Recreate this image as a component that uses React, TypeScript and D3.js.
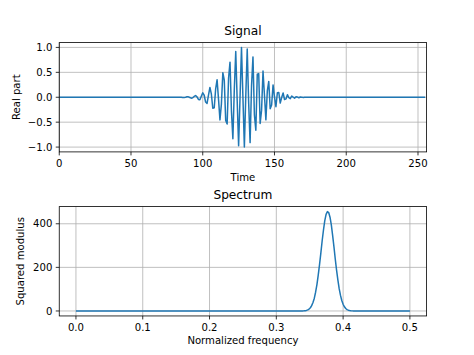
import React from 'react';
import * as d3 from 'd3';

// ---- data ----
const signalTime = [
  0, 84, 85, 86, 87, 88, 89, 90, 91, 92, 93, 94, 95, 96, 97, 98, 99,
  100, 101, 102, 103, 104, 105, 106, 107, 108, 109, 110, 111, 112, 113, 114, 115, 116, 117, 118, 119,
  120, 121, 122, 123, 124, 125, 126, 127, 128, 129, 130, 131, 132, 133, 134, 135, 136, 137, 138, 139,
  140, 141, 142, 143, 144, 145, 146, 147, 148, 149, 150, 151, 152, 153, 154, 155, 156, 157, 158, 159,
  160, 161, 162, 163, 164, 165, 166, 167, 168, 169, 170, 171, 172, 255,
];
const signalReal = [
  0, 0.0021, -0.0004, -0.0041, -0.0045, 0.0014, 0.009, 0.0082, -0.0052, -0.0187, -0.0117, 0.0169, 0.0345, 0.0074, -0.0446, -0.0505, 0.0216,
  0.0901, 0.0404, -0.0955, -0.125, 0.0437, 0.1972, 0.066, -0.2198, -0.2104, 0.1687, 0.352, -0.0431, -0.454, -0.1372, 0.4936, 0.341, -0.4669, -0.5375, 0.3873, 0.7045,
  -0.2779, -0.8318, 0.1646, 0.9192, -0.0703, -0.9721, 0.0122, 0.9969, 0.0, -0.9969, 0.0365, 0.9701, -0.117, -0.9104, 0.2291, 0.8098, -0.3526, -0.6632, 0.4613, 0.4741,
  -0.527, -0.2588, 0.5272, 0.0463, -0.4535, 0.1273, 0.3182, -0.2301, -0.1543, 0.2473, 0.0056, -0.1907, 0.0899, 0.0956, -0.1163, -0.0059, 0.0865, -0.0457, -0.0333, 0.0517,
  -0.0095, -0.0286, 0.025, 0.0022, -0.0176, 0.0108, 0.0035, -0.0092, 0.0046, 0.0022, -0.0044, 0.0021, 0.001, 0,
];
const timeTicks = [0, 50, 100, 150, 200, 250];
const realTicks = [-1.0, -0.5, 0.0, 0.5, 1.0];

const spectrumFreq = [
  0, 0.3333, 0.3353, 0.3373, 0.3392, 0.3412, 0.3431, 0.3451, 0.3471, 0.349, 0.351,
  0.3529, 0.3549, 0.3569, 0.3588, 0.3608, 0.3627, 0.3647, 0.3667, 0.3686, 0.3706,
  0.3725, 0.3745, 0.3765, 0.3784, 0.3804, 0.3824, 0.3843, 0.3863, 0.3882, 0.3902,
  0.3922, 0.3941, 0.3961, 0.398, 0.4, 0.402, 0.4039, 0.4059, 0.4078, 0.4098,
  0.4118, 0.4137, 0.4157, 0.4176, 0.4196, 0.5,
];
const spectrumPower = [
  0, 0.03, 0.07, 0.15, 0.33, 0.69, 1.37, 2.64, 4.88, 8.68, 14.85,
  24.42, 38.63, 58.79, 85.98, 120.98, 163.7, 213.03, 266.62, 320.9, 371.5,
  413.57, 442.8, 455.95, 451.52, 430.03, 393.88, 346.96, 293.92, 239.48, 187.65,
  141.41, 102.49, 71.44, 47.88, 30.87, 19.14, 11.41, 6.54, 3.61, 1.91,
  0.98, 0.48, 0.23, 0.1, 0.05, 0,
];
const freqTicks = [0.0, 0.1, 0.2, 0.3, 0.4, 0.5];
const powerTicks = [0, 200, 400];

const W = 474;
const H = 355;
const LEFT = 59.25;
const RIGHT = 426.6;
const FONT = 'DejaVu Sans, sans-serif';
const BLUE = '#1f77b4';
const FS = 10.1;
const TFS = 12.2;

const fmtSigned = (d: number, digits: number) => {
  const s = Math.abs(d).toFixed(digits);
  return d < 0 ? '\u2212' + s : s;
};

function padded(vals: number[]): [number, number] {
  const [lo, hi] = d3.extent(vals) as [number, number];
  const m = (hi - lo) * 0.05;
  return [lo - m, hi + m];
}

type PanelProps = {
  top: number;
  bottom: number;
  xDomain: [number, number];
  yDomain: [number, number];
  xs: number[];
  ys: number[];
  xTicks: number[];
  yTicks: number[];
  xFmt: (d: number) => string;
  yFmt: (d: number) => string;
  title: string;
  xLabel: string;
  yLabel: string;
  yLabelX: number;
  titleY: number;
  xLabelDy: number;
};

function Panel(p: PanelProps) {
  const x = d3.scaleLinear().domain(p.xDomain).range([LEFT, RIGHT]);
  const y = d3.scaleLinear().domain(p.yDomain).range([p.bottom, p.top]);
  const pts = p.xs.map((v, i) => [v, p.ys[i]] as [number, number]);
  const path = d3
    .line<[number, number]>()
    .x((d) => x(d[0]))
    .y((d) => y(d[1]))(pts) as string;
  const clipId = 'clip' + Math.round(p.top);
  return (
    <g>
      <defs>
        <clipPath id={clipId}>
          <rect x={LEFT} y={p.top} width={RIGHT - LEFT} height={p.bottom - p.top} />
        </clipPath>
      </defs>
      <rect x={LEFT} y={p.top} width={RIGHT - LEFT} height={p.bottom - p.top} fill="#fff" />
      {p.xTicks.map((t) => (
        <line key={'gx' + t} x1={x(t)} x2={x(t)} y1={p.top} y2={p.bottom} stroke="#b0b0b0" strokeWidth={0.8} />
      ))}
      {p.yTicks.map((t) => (
        <line key={'gy' + t} x1={LEFT} x2={RIGHT} y1={y(t)} y2={y(t)} stroke="#b0b0b0" strokeWidth={0.8} />
      ))}
      <path d={path} fill="none" stroke={BLUE} strokeWidth={1.5} strokeLinejoin="round" clipPath={`url(#${clipId})`} />
      <rect x={LEFT} y={p.top} width={RIGHT - LEFT} height={p.bottom - p.top} fill="none" stroke="#000" strokeWidth={0.8} />
      {p.xTicks.map((t) => (
        <g key={'tx' + t}>
          <line x1={x(t)} x2={x(t)} y1={p.bottom} y2={p.bottom + 3.5} stroke="#000" strokeWidth={0.8} />
          <text x={x(t)} y={p.bottom + 15} textAnchor="middle" fontSize={FS} fontFamily={FONT} fill="#000">
            {p.xFmt(t)}
          </text>
        </g>
      ))}
      {p.yTicks.map((t) => (
        <g key={'ty' + t}>
          <line x1={LEFT - 3.5} x2={LEFT} y1={y(t)} y2={y(t)} stroke="#000" strokeWidth={0.8} />
          <text x={LEFT - 6.9} y={y(t) + 3.6} textAnchor="end" fontSize={FS} fontFamily={FONT} fill="#000">
            {p.yFmt(t)}
          </text>
        </g>
      ))}
      <text x={(LEFT + RIGHT) / 2} y={p.titleY} textAnchor="middle" fontSize={TFS} fontFamily={FONT} fill="#000">
        {p.title}
      </text>
      <text x={(LEFT + RIGHT) / 2} y={p.bottom + p.xLabelDy} textAnchor="middle" fontSize={FS} fontFamily={FONT} fill="#000">
        {p.xLabel}
      </text>
      <text
        transform={`translate(${p.yLabelX},${(p.top + p.bottom) / 2}) rotate(-90)`}
        textAnchor="middle"
        fontSize={FS}
        fontFamily={FONT}
        fill="#000"
      >
        {p.yLabel}
      </text>
    </g>
  );
}

export default function App() {
  return (
    <svg width={W} height={H} style={{ position: 'absolute', left: 0, top: 0, background: '#fff' }}>
      <rect x={0} y={0} width={W} height={H} fill="#fff" />
      <Panel
        top={42.6}
        bottom={151.9}
        xDomain={[0, 256]}
        yDomain={padded(signalReal)}
        xs={signalTime}
        ys={signalReal}
        xTicks={timeTicks}
        yTicks={realTicks}
        xFmt={(d) => String(d)}
        yFmt={(d) => fmtSigned(d, 1)}
        title="Signal"
        xLabel="Time"
        yLabel="Real part"
        yLabelX={19.5}
        titleY={34.8}
        xLabelDy={29.3}
      />
      <Panel
        top={206.6}
        bottom={315.95}
        xDomain={padded(spectrumFreq)}
        yDomain={padded(spectrumPower)}
        xs={spectrumFreq}
        ys={spectrumPower}
        xTicks={freqTicks}
        yTicks={powerTicks}
        xFmt={(d) => d.toFixed(1)}
        yFmt={(d) => String(d)}
        title="Spectrum"
        xLabel="Normalized frequency"
        yLabel="Squared modulus"
        yLabelX={24}
        titleY={198.8}
        xLabelDy={28.3}
      />
    </svg>
  );
}
